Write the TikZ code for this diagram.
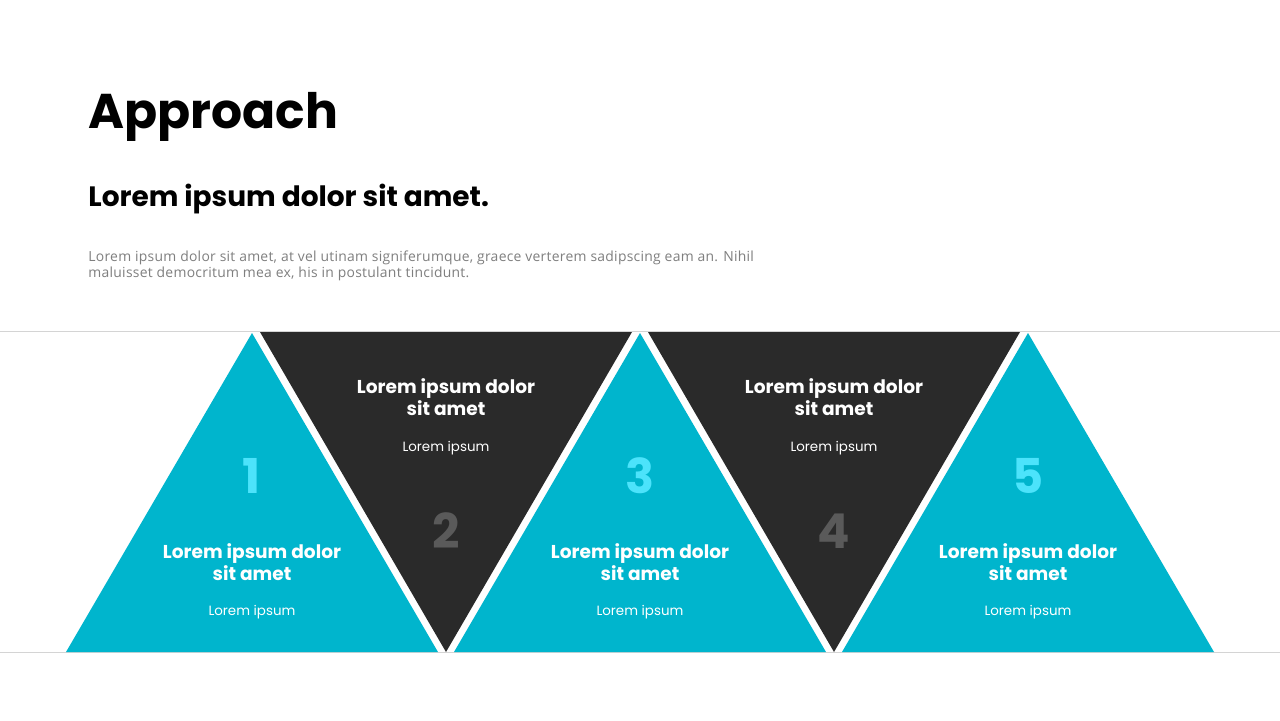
\documentclass[tikz,border=0pt]{standalone}
\usepackage{fontspec}
\setmainfont{Poppins}
\newfontfamily\bodyfont[LetterSpace=2]{Open Sans}
\usepackage{tikz}

\definecolor{teal}{HTML}{00B5CD}
\definecolor{darktri}{HTML}{2A2A2A}
\definecolor{numlight}{HTML}{4CE3FB}
\definecolor{numgrey}{HTML}{5A5A5A}
\definecolor{rulegrey}{HTML}{D4D4D4}
\definecolor{paragrey}{HTML}{7F7F7F}

\tikzset{
  head/.style={text=white, font=\bfseries\fontsize{9.3}{11}\selectfont, align=center},
  sub/.style={text=white, font=\fontsize{6.7}{8}\selectfont},
  numup/.style={text=numlight, font=\bfseries\fontsize{24}{24}\selectfont},
  numdown/.style={text=numgrey, font=\bfseries\fontsize{24}{24}\selectfont}
}

\begin{document}
\begin{tikzpicture}[x=0.5pt,y=-0.5pt]
			\useasboundingbox[fill=white] (0,0) rectangle (1280,720);
			
			% rules
			\draw[rulegrey, line width=0.5pt] (0,331.5) -- (1280,331.5);
			\draw[rulegrey, line width=0.5pt] (0,652.5) -- (1280,652.5);
			
			% title block
			\node[anchor=base west, inner sep=0pt, font=\bfseries\fontsize{24.4}{30}\selectfont] (title) at (88,128) {Approach};
			\node[anchor=base west, inner sep=0pt, font=\bfseries\fontsize{14}{16}\selectfont] (subtitle) at (88,206) {Lorem ipsum dolor sit amet.};
			\node[anchor=north west, inner sep=0pt, align=left, text=paragrey, font=\bodyfont\fontsize{6.95}{8}\selectfont] (para) at (88,250)
				{Lorem ipsum dolor sit amet, at vel utinam signiferumque, graece verterem sadipscing eam an. Nihil\\
				 maluisset democritum mea ex, his in postulant tincidunt.};
			
			% triangles
			\fill[teal] (252,333) -- (438,652) -- (66,652) -- cycle;
			\fill[darktri] (260,332) -- (632,332) -- (446,652) -- cycle;
			\fill[teal] (640,333) -- (826,652) -- (454,652) -- cycle;
			\fill[darktri] (648,332) -- (1020,332) -- (834,652) -- cycle;
			\fill[teal] (1028,333) -- (1214,652) -- (842,652) -- cycle;
			
			% step 1
			\node[numup] (n1) at (252,476) {1};
			\node[head] (h1) at (252,562) {Lorem ipsum dolor\\sit amet};
			\node[sub] (s1) at (252,612) {Lorem ipsum};
			
			% step 2
			\node[head] (h2) at (446,397) {Lorem ipsum dolor\\sit amet};
			\node[sub] (s2) at (446,448) {Lorem ipsum};
			\node[numdown] (n2) at (446,531) {2};
			
			% step 3
			\node[numup] (n3) at (640,476) {3};
			\node[head] (h3) at (640,562) {Lorem ipsum dolor\\sit amet};
			\node[sub] (s3) at (640,612) {Lorem ipsum};
			
			% step 4
			\node[head] (h4) at (834,397) {Lorem ipsum dolor\\sit amet};
			\node[sub] (s4) at (834,448) {Lorem ipsum};
			\node[numdown] (n4) at (834,531) {4};
			
			% step 5
			\node[numup] (n5) at (1028,476) {5};
			\node[head] (h5) at (1028,562) {Lorem ipsum dolor\\sit amet};
			\node[sub] (s5) at (1028,612) {Lorem ipsum};
		\end{tikzpicture}
\end{document}
